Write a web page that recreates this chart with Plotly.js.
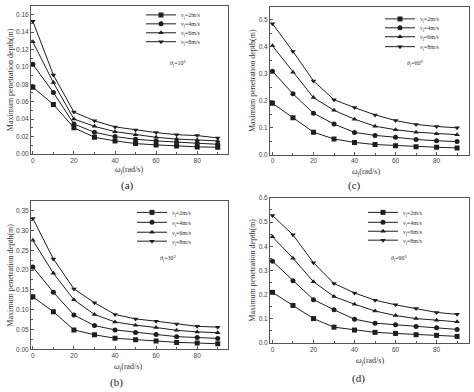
<!DOCTYPE html>
<html>
<head>
<meta charset="utf-8">
<script src="https://cdn.plot.ly/plotly-3.0.1.min.js"></script>
<style>html,body{margin:0;padding:0;background:#fff;}#chart{width:474px;height:392px;}</style>
</head>
<body>
<div id="chart"></div>
<script>
// omega_j (rad/s)
const omega = [0, 10, 20, 30, 40, 50, 60, 70, 80, 90];
const seriesNames = ["<i>v</i><sub>j</sub>=2m/s", "<i>v</i><sub>j</sub>=4m/s", "<i>v</i><sub>j</sub>=6m/s", "<i>v</i><sub>j</sub>=8m/s"];
const panelLabels = ["(a)", "(b)", "(c)", "(d)"];
const thetaLabels = ["<i>θ</i><sub>j</sub>=10°", "<i>θ</i><sub>j</sub>=30°", "<i>θ</i><sub>j</sub>=60°", "<i>θ</i><sub>j</sub>=90°"];
const xTitle = "<i>ω</i><sub>j</sub>(rad/s)";
const yTitle = "Maximum penetration depth(m)";

// (a) theta = 10°
const a_v2 = [0.0766, 0.0568, 0.0300, 0.0190, 0.0149, 0.0118, 0.0103, 0.0091, 0.0080, 0.0076];
const a_v4 = [0.1029, 0.0705, 0.0343, 0.0248, 0.0198, 0.0168, 0.0149, 0.0133, 0.0122, 0.0110];
const a_v6 = [0.1288, 0.0819, 0.0400, 0.0316, 0.0255, 0.0220, 0.0190, 0.0170, 0.0160, 0.0149];
const a_v8 = [0.1524, 0.0907, 0.0480, 0.0380, 0.0310, 0.0274, 0.0244, 0.0220, 0.0210, 0.0183];
// (b) theta = 30°
const b_v2 = [0.1325, 0.0950, 0.0490, 0.0367, 0.0280, 0.0240, 0.0210, 0.0175, 0.0160, 0.0140];
const b_v4 = [0.2075, 0.1440, 0.0867, 0.0600, 0.0490, 0.0425, 0.0375, 0.0320, 0.0300, 0.0275];
const b_v6 = [0.2750, 0.1920, 0.1250, 0.0880, 0.0690, 0.0610, 0.0550, 0.0480, 0.0440, 0.0420];
const b_v8 = [0.3300, 0.2280, 0.1525, 0.1175, 0.0880, 0.0767, 0.0710, 0.0640, 0.0580, 0.0560];
// (c) theta = 60°
const c_v2 = [0.190, 0.136, 0.083, 0.0576, 0.045, 0.037, 0.033, 0.029, 0.027, 0.0245];
const c_v4 = [0.309, 0.225, 0.153, 0.113, 0.082, 0.071, 0.064, 0.056, 0.051, 0.048];
const c_v6 = [0.403, 0.305, 0.211, 0.164, 0.131, 0.105, 0.092, 0.083, 0.077, 0.0735];
const c_v8 = [0.485, 0.382, 0.273, 0.203, 0.174, 0.147, 0.126, 0.1115, 0.104, 0.099];
// (d) theta = 90°
const d_v2 = [0.209, 0.155, 0.1005, 0.065, 0.053, 0.0435, 0.039, 0.034, 0.031, 0.027];
const d_v4 = [0.338, 0.257, 0.179, 0.137, 0.098, 0.0815, 0.075, 0.068, 0.0625, 0.0557];
const d_v6 = [0.439, 0.3505, 0.2527, 0.1916, 0.160, 0.132, 0.113, 0.1005, 0.094, 0.087];
const d_v8 = [0.527, 0.447, 0.3315, 0.246, 0.2065, 0.1766, 0.1576, 0.1427, 0.126, 0.118];

const W = 474, H = 392;
const symbols = ["square", "circle", "triangle-up", "triangle-down"];
const ink = "#1e1e1e";
const serif = "Liberation Serif, Times New Roman, serif";

// panel geometry in pixels: [left, right, top, bottom]
const panels = [
  {data: [a_v2, a_v4, a_v6, a_v8], box: [31, 228, 3, 152], yr: [0, 0.17], dt: 0.02, fmt: ".2f", xr: [-0.9, 95],
   leg: {tx: 181, ys: [12, 21, 30, 39]}, th: [168, 61], lab: [127, 184], xt: [129, 168]},
  {data: [b_v2, b_v4, b_v6, b_v8], box: [31, 228, 200, 349], yr: [0, 0.373], dt: 0.05, fmt: ".2f", xr: [-0.9, 95],
   leg: {tx: 172, ys: [211, 221, 231, 240]}, th: [158, 257], lab: [116, 382], xt: [128, 367]},
  {data: [c_v2, c_v4, c_v6, c_v8], box: [270, 469, 4, 152.7], yr: [0, 0.547], dt: 0.1, fmt: ".1f", xr: [-1.2, 95.8],
   leg: {tx: 420, ys: [16, 25, 34, 44]}, th: [405, 61], lab: [354, 184], xt: [366, 170]},
  {data: [d_v2, d_v4, d_v6, d_v8], box: [270, 469, 196.4, 342.5], yr: [0, 0.6], dt: 0.1, fmt: ".1f", xr: [-1.2, 95.8],
   leg: {tx: 403, ys: [211, 221, 230, 239]}, th: [389, 257], lab: [358, 378], xt: [370, 361]}
];

const traces = [];
const layout = {
  width: W, height: H,
  margin: {l: 0, r: 0, t: 0, b: 0},
  paper_bgcolor: "#fff", plot_bgcolor: "#fff",
  showlegend: true,
  annotations: []
};

let legendCount = 0;
panels.forEach((p, i) => {
  const n = i === 0 ? "" : String(i + 1);
  const xa = "xaxis" + n, ya = "yaxis" + n;
  const [l, r, t, b] = p.box;
  const axisCommon = {
    showline: true, mirror: true, linecolor: "#555", linewidth: 1,
    ticks: "inside", ticklen: 3, tickcolor: "#555", tickwidth: 1,
    showgrid: false, zeroline: false, fixedrange: true,
    tickfont: {family: "Liberation Sans, Arial, sans-serif", size: 6.5, color: "#444"}
  };
  layout[xa] = Object.assign({}, axisCommon, {
    domain: [l / W, r / W], range: p.xr, anchor: "y" + n,
    tickmode: "linear", tick0: 0, dtick: 20,
    minor: {ticks: "inside", ticklen: 2, dtick: 10, tick0: 0, tickcolor: "#555"}
  });
  layout[ya] = Object.assign({}, axisCommon, {
    domain: [1 - b / H, 1 - t / H], range: p.yr, anchor: "x" + n,
    tickmode: "linear", tick0: 0, dtick: p.dt, tickformat: p.fmt,
    minor: {ticks: "inside", ticklen: 2, dtick: p.dt / 2, tick0: 0, tickcolor: "#555"},
    title: {text: yTitle, font: {family: serif, size: 8, color: "#333"}, standoff: 1}
  });
  p.data.forEach((vals, k) => {
    legendCount += 1;
    const lg = legendCount === 1 ? "legend" : "legend" + legendCount;
    traces.push({
      type: "scatter", mode: "lines+markers",
      x: omega, y: vals, name: seriesNames[k],
      xaxis: "x" + n, yaxis: "y" + n,
      legend: lg,
      line: {color: ink, width: 1},
      marker: {symbol: symbols[k], size: 5, color: ink},
      hoverinfo: "x+y"
    });
    layout[lg] = {
      x: (p.leg.tx - 40) / W, y: 1 - p.leg.ys[k] / H,
      xref: "paper", yref: "paper", xanchor: "left", yanchor: "middle",
      bgcolor: "rgba(0,0,0,0)", borderwidth: 0, itemwidth: 30,
      font: {family: serif, size: 6, color: "#333"}
    };
  });
  layout.annotations.push({
    text: xTitle, xref: "paper", yref: "paper",
    x: p.xt[0] / W, y: 1 - p.xt[1] / H, xanchor: "center", yanchor: "middle",
    showarrow: false, font: {family: serif, size: 8, color: "#333"}
  });
  layout.annotations.push({
    text: thetaLabels[i], xref: "paper", yref: "paper",
    x: p.th[0] / W, y: 1 - p.th[1] / H, xanchor: "left", yanchor: "middle",
    showarrow: false, font: {family: serif, size: 6, color: "#333"}
  });
  layout.annotations.push({
    text: panelLabels[i], xref: "paper", yref: "paper",
    x: p.lab[0] / W, y: 1 - p.lab[1] / H, xanchor: "center", yanchor: "middle",
    showarrow: false, font: {family: serif, size: 11, color: "#222"}
  });
});

Plotly.newPlot("chart", traces, layout, {displayModeBar: false, staticPlot: true});
</script>
</body>
</html>
